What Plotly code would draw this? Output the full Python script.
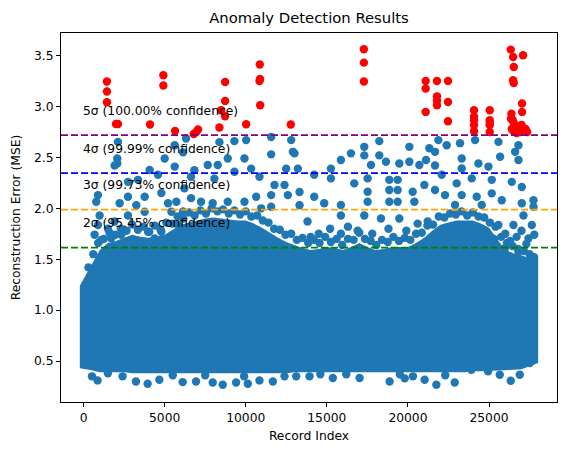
import plotly.graph_objects as go

# ---------------- data ----------------
# dense core of normal records: visual top / bottom of the solid mass
core_x = [-230, 500, 1000, 1500, 2000, 2500, 3000, 3500, 4000, 4500, 5000, 5500, 6000, 6500,
          7000, 7500, 8000, 8500, 9000, 9500, 10000, 10500, 11000, 11500, 12000, 12500,
          13000, 13500, 14000, 14500, 15000, 15500, 16000, 16500, 17000, 17500, 18000,
          18500, 19000, 19500, 20000, 20500, 21000, 21500, 22000, 22500, 23000, 23500,
          24000, 24500, 25000, 25500, 26000, 26500, 27000, 27500, 28030]
core_top = [1.24, 1.45, 1.59, 1.66, 1.68, 1.71, 1.74, 1.72, 1.71, 1.72, 1.74, 1.79, 1.84,
            1.86, 1.88, 1.90, 1.91, 1.90, 1.89, 1.88, 1.88, 1.85, 1.81, 1.76, 1.71, 1.67,
            1.64, 1.61, 1.59, 1.60, 1.62, 1.61, 1.59, 1.62, 1.66, 1.62, 1.59, 1.60, 1.62,
            1.62, 1.62, 1.66, 1.71, 1.78, 1.84, 1.86, 1.88, 1.88, 1.88, 1.85, 1.81, 1.70,
            1.59, 1.56, 1.54, 1.51, 1.50]
core_bottom = [0.43, 0.41, 0.39, 0.39, 0.39, 0.39, 0.38, 0.38, 0.38, 0.38, 0.38, 0.38, 0.38,
               0.38, 0.38, 0.38, 0.38, 0.38, 0.38, 0.38, 0.38, 0.38, 0.38, 0.38, 0.38, 0.38,
               0.39, 0.39, 0.39, 0.39, 0.39, 0.39, 0.39, 0.39, 0.39, 0.39, 0.39, 0.39, 0.39,
               0.39, 0.39, 0.39, 0.39, 0.39, 0.39, 0.39, 0.39, 0.39, 0.40, 0.40, 0.40, 0.41,
               0.41, 0.415, 0.42, 0.45, 0.48]

# records along the upper edge of the core
edge_x = [300, 600, 900, 1250, 1600, 1950, 2300, 2650, 3000, 3350, 3700, 4050, 4400, 4750,
          5100, 5450, 5800, 6150, 6500, 6850, 7200, 7550, 7900, 8250, 8600, 8950, 9300,
          9650, 10000, 10350, 10700, 11050, 11400, 11750, 12100, 12450, 12800, 13150,
          13500, 13850, 14200, 14550, 14900, 15250, 15600, 15950, 16300, 16650, 17000,
          17350, 17700, 18050, 18400, 18750, 19100, 19450, 19800, 20150, 20500, 20850,
          21200, 21550, 21900, 22250, 22600, 22950, 23300, 23650, 24000, 24350, 24700,
          25050, 25400, 25750, 26100, 26450, 26800, 27150, 27500, 27780]
edge_y = [1.42, 1.55, 1.66, 1.70, 1.76, 1.74, 1.80, 1.78, 1.84, 1.79, 1.82, 1.77, 1.83, 1.79,
          1.86, 1.85, 1.92, 1.90, 1.96, 1.93, 1.98, 1.95, 2.00, 1.97, 1.99, 1.95, 1.98,
          1.94, 1.97, 1.92, 1.93, 1.88, 1.86, 1.80, 1.79, 1.74, 1.75, 1.69, 1.71, 1.66,
          1.69, 1.66, 1.72, 1.67, 1.70, 1.64, 1.70, 1.69, 1.76, 1.70, 1.68, 1.64, 1.69,
          1.67, 1.72, 1.68, 1.71, 1.69, 1.75, 1.76, 1.83, 1.84, 1.92, 1.91, 1.95, 1.94,
          1.97, 1.93, 1.96, 1.92, 1.91, 1.86, 1.82, 1.72, 1.66, 1.63, 1.60, 1.58, 1.55, 1.52]

# scattered normal records (outside the dense core)
normal_x = [2122, 2081, 2081, 1916, 5003, 5620, 5620, 6135, 4077, 4591, 2739, 3356, 887, 784,
            2225, 2739, 3768, 3253, 4797, 5209, 5723, 990, 887, 681, 1093, 1710, 3459, 4385,
            1916, 4797, 5826, 2739, 3768, 5415, 6135, 1504, 2327, 3974, 5415, 6032,
            11567, 12802, 10023, 9920, 11567, 12905, 8891, 8274, 7657, 6833, 10332, 10846,
            12493, 13213, 6628, 8068, 9303, 11773, 12390, 12596, 13316, 13316, 11567, 11567,
            10641, 9920, 8891, 7965, 7245, 6628, 6216, 10949, 6321, 8377, 9300, 13006,
            18234, 17308, 16484, 15867, 15250, 17308, 18234, 17719, 18646, 19468, 20086,
            20086, 20703, 21115, 21321, 14221, 15250, 16690, 17514, 17514, 17514, 18851,
            19366, 18851, 19366, 18851, 19366, 20292, 20395, 21012, 14221, 14838, 15867,
            13809, 15867, 17308, 19468, 18337, 21218, 14500, 15200, 16300, 16900, 17800,
            18800, 19900, 20600, 14000, 15867,
            21875, 22389, 23212, 24138, 25579, 26814, 25682, 26608, 26814, 23315, 23315,
            24344, 24961, 21669, 21669, 22080, 23932, 25167, 26402, 27020, 23006, 21669,
            22286, 23315, 24241, 25167, 25785, 27020, 27740, 27740, 22904, 24550, 27123,
            27637, 26505, 25579, 27431, 27790, 25990, 26814, 26000, 26300, 27000, 27300,
            25300, 26700,
            518, 864, 2407, 3230, 3951, 4673, 6111, 6934, 7965, 8583, 9406, 10126, 10846,
            11670, 12390, 13111, 13932, 15370, 17019, 18870, 20309, 21031, 21752, 22883,
            23912, 24940, 25660, 26340, 26895, 27512, 1500, 5500, 7500, 9900, 14600, 16200,
            19500, 22300, 19800]
normal_y = [2.653, 2.49, 2.44, 2.42, 2.49, 2.41, 2.62, 2.55, 2.376, 2.33, 2.26, 2.28, 2.13,
            2.065, 2.05, 2.114, 2.114, 2.03, 2.15, 2.05, 2.065, 1.93, 1.836, 1.74, 1.69,
            1.705, 1.656, 1.705, 1.87, 1.77, 1.836, 1.93, 1.966, 1.966, 1.97, 1.80, 1.74,
            1.77, 1.705, 1.74,
            2.70, 2.67, 2.67, 2.49, 2.53, 2.555, 2.49, 2.425, 2.425, 2.375, 2.39, 2.31,
            2.39, 2.39, 2.31, 2.29, 2.36, 2.23, 2.23, 2.13, 2.16, 2.03, 2.13, 2.016,
            2.114, 2.065, 2.065, 2.05, 2.065, 2.10, 2.196, 2.0, 2.686, 2.65, 2.66, 2.54,
            2.66, 2.604, 2.54, 2.474, 2.39, 2.52, 2.52, 2.425, 2.457, 2.44, 2.604,
            2.457, 2.425, 2.474, 2.59, 2.33, 2.294, 2.245, 2.294, 2.163, 2.065, 2.28,
            2.28, 2.18, 2.18, 2.065, 2.065, 2.163, 2.065, 2.23, 2.114, 2.05, 2.033,
            1.87, 1.93, 1.93, 1.90, 1.90, 1.87, 1.75, 1.80, 1.82, 1.78, 1.75,
            1.80, 1.78, 1.85, 1.72, 1.75,
            2.67, 2.62, 2.64, 2.67, 2.653, 2.62, 2.506, 2.555, 2.474, 2.49, 2.392,
            2.44, 2.41, 2.555, 2.42, 2.33, 2.294, 2.28, 2.26, 2.21, 2.245, 2.18,
            2.13, 2.13, 2.114, 2.147, 2.08, 2.05, 2.08, 2.016, 2.033, 2.033, 1.93,
            1.836, 1.836, 1.836, 1.705, 1.74, 1.61, 1.575, 1.75, 1.68, 1.78, 1.65,
            1.70, 1.72,
            0.35, 0.31, 0.35, 0.30, 0.277, 0.317, 0.293, 0.30, 0.29, 0.268, 0.29, 0.277, 0.31,
            0.30, 0.35, 0.35, 0.35, 0.333, 0.333, 0.30, 0.35, 0.317, 0.268, 0.29,
            0.415, 0.40, 0.366, 0.307, 0.366, 0.48, 0.38, 0.36, 0.36, 0.35, 0.37, 0.37,
            0.37, 0.36, 0.33]

# anomalies (above the 5 sigma threshold)
anomaly_x = [1443, 1443, 1443, 2000, 2123, 4099, 4920, 4920, 5642, 6790, 7060, 6950,
             8377, 8481, 8728, 8728, 8728, 10025, 10864, 10850, 10880, 10889, 12778,
             17284, 17284, 17284, 21093, 21093, 21093, 21790, 21790, 21790, 21790,
             22469, 22469, 22469, 24074, 24074, 24074, 24074, 24074,
             25043, 25043, 25043, 25043, 25043,
             26340, 26485, 27099, 26525, 26481, 26525, 27037, 27037,
             26380, 26450, 26520, 26650, 26800, 26950, 26500, 26700, 26900, 27000,
             26400, 26350, 26600, 27250, 27350]
anomaly_y = [3.245, 3.147, 3.042, 2.829, 2.829, 2.823, 3.307, 3.206, 2.761, 2.73, 2.775, 2.75,
             2.794, 2.964, 3.241, 3.055, 2.905, 2.826, 3.412, 3.25, 3.27, 3.013, 2.823,
             3.562, 3.431, 3.245, 3.251, 3.176, 2.947, 3.251, 3.10, 3.06, 3.013,
             3.251, 3.045, 2.856, 2.964, 2.90, 2.866, 2.817, 2.758,
             2.964, 2.866, 2.84, 2.817, 2.75,
             3.559, 3.486, 3.503, 3.388, 3.258, 3.231, 3.029, 2.947,
             2.93, 2.87, 2.84, 2.80, 2.78, 2.79, 2.76, 2.74, 2.75, 2.82,
             2.78, 2.88, 2.77, 2.78, 2.75]

# sigma thresholds
threshold_values = [1.614, 1.987, 2.346, 2.719]
threshold_labels = ["2σ (95.45% confidence)", "3σ (99.73% confidence)",
                    "4σ (99.99% confidence)", "5σ (100.00% confidence)"]
threshold_colors = ["green", "orange", "blue", "purple"]
label_offset = 0.2

x_ticks = [0, 5000, 10000, 15000, 20000, 25000]
y_ticks = [0.5, 1.0, 1.5, 2.0, 2.5, 3.0, 3.5]

# ---------------- figure ----------------
FONT = "DejaVu Sans"
BLUE = "#1f77b4"
MS = 8.4
fig = go.Figure()

fig.add_trace(go.Scatter(
    x=core_x + core_x[::-1], y=core_top + core_bottom[::-1],
    mode="lines", fill="toself", fillcolor=BLUE,
    line=dict(color=BLUE, width=0), hoverinfo="skip", showlegend=False))

fig.add_trace(go.Scatter(
    x=edge_x + normal_x, y=edge_y + normal_y, mode="markers",
    marker=dict(color=BLUE, size=MS, line=dict(width=0)), showlegend=False))

fig.add_trace(go.Scatter(
    x=anomaly_x, y=anomaly_y, mode="markers",
    marker=dict(color="red", size=MS, line=dict(width=0)), showlegend=False))

for v, lab, col in zip(threshold_values, threshold_labels, threshold_colors):
    fig.add_shape(type="line", xref="paper", x0=0, x1=1, yref="y", y0=v, y1=v,
                  line=dict(color=col, width=1.8, dash="7px,3px"), layer="above")
    fig.add_annotation(x=0, y=v + label_offset, xref="x", yref="y", text=lab,
                       showarrow=False, xanchor="left", yanchor="middle", yshift=4,
                       xshift=-2, borderpad=0,
                       font=dict(family=FONT, size=12.3, color="black"))

fig.update_layout(
    width=567, height=455, autosize=False,
    margin=dict(l=61, r=10, t=33, b=53, pad=0, autoexpand=False),
    paper_bgcolor="white", plot_bgcolor="white",
    font=dict(family=FONT, size=12.3, color="black"),
    title=dict(text="Anomaly Detection Results", x=0.5, xref="paper", xanchor="center",
               y=1 - 18 / 455, yref="container", yanchor="middle",
               font=dict(family=FONT, size=14.8, color="black")),
    xaxis=dict(range=[-1390, 29190], tickvals=x_ticks, tickformat="d",
               showgrid=False, zeroline=False, showline=True, mirror=True,
               linecolor="black", linewidth=1, ticks="outside", ticklen=4,
               tickwidth=1, tickcolor="black", automargin=False,
               title=dict(text="Record Index", standoff=7,
                          font=dict(family=FONT, size=12.3))),
    yaxis=dict(range=[0.098, 3.722], tickvals=y_ticks, tickformat=".1f",
               showgrid=False, zeroline=False, showline=True, mirror=True,
               linecolor="black", linewidth=1, ticks="outside", ticklen=4,
               tickwidth=1, tickcolor="black", automargin=False,
               title=dict(text="Reconstruction Error (MSE)", standoff=10,
                          font=dict(family=FONT, size=12.3))),
)

fig.write_html("out.html", config={"responsive": False, "displayModeBar": False},
               post_script="document.body.style.margin='0';")
